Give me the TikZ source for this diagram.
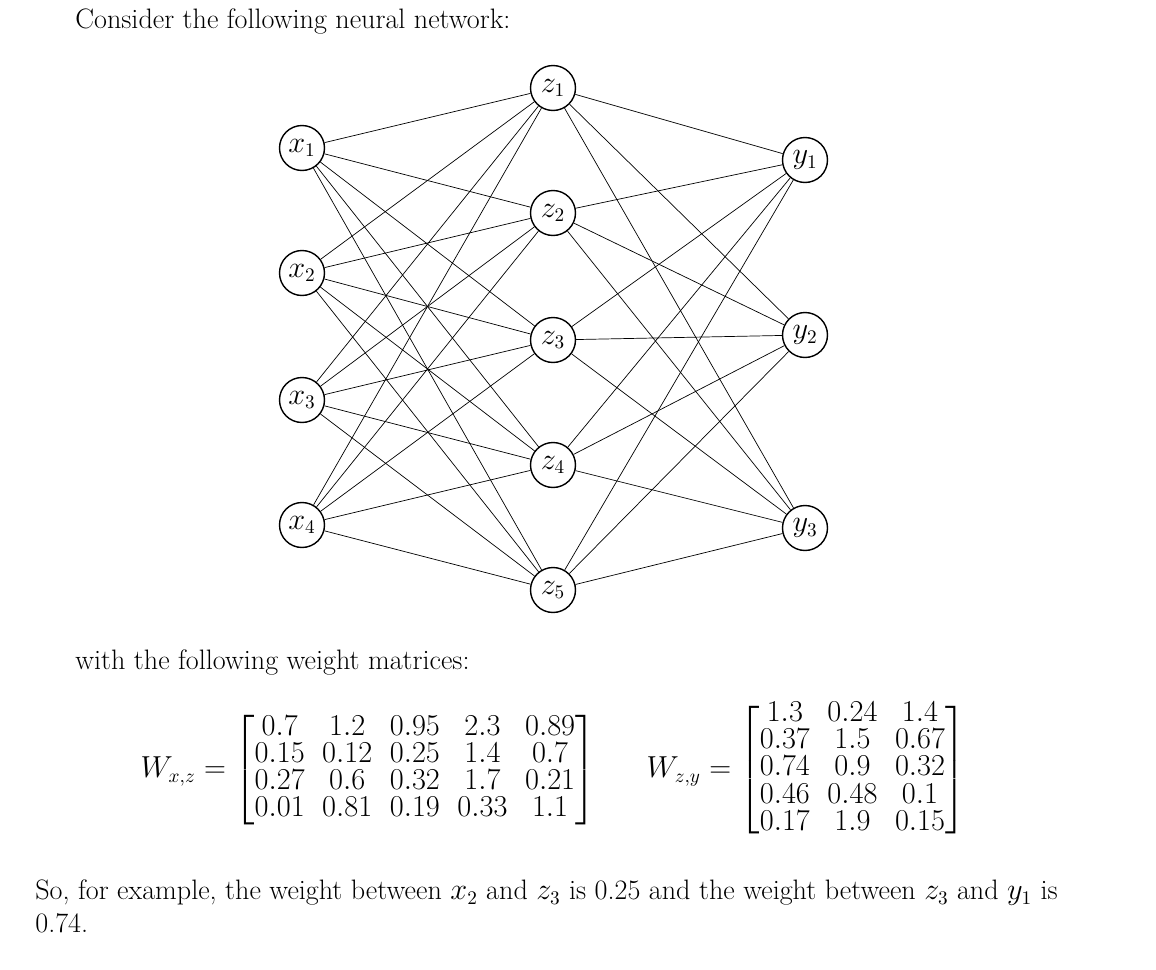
\documentclass[tikz,border=0pt]{standalone}
\usepackage{amsmath}
\begin{document}
\fontsize{16}{19}\selectfont
\renewcommand{\arraystretch}{0.76}
\begin{tikzpicture}[x=0.02cm,y=-0.02cm,
  neuron/.style={circle, draw, thick, minimum size=0.9cm, inner sep=0pt},
  txt/.style={anchor=west, inner sep=0pt}]
\useasboundingbox (0,0) rectangle (1156,970);
\node[txt] (intro) at (75,22) {Consider the following neural network:};
% input layer
\foreach \i/\yy in {1/148, 2/273, 3/400, 4/525}
  \node[neuron] (x\i) at (302,\yy) {$x_{\i}$};
% hidden layer
\foreach \i/\yy in {1/88, 2/213, 3/340, 4/465, 5/590}
  \node[neuron] (z\i) at (553,\yy) {$z_{\i}$};
% output layer
\foreach \i/\yy in {1/160, 2/335, 3/528}
  \node[neuron] (y\i) at (805,\yy) {$y_{\i}$};
\foreach \i in {1,...,4}
  \foreach \j in {1,...,5}
    \draw (x\i) -- (z\j);
\foreach \j in {1,...,5}
  \foreach \k in {1,...,3}
    \draw (z\j) -- (y\k);
\node[txt] (with) at (75,662) {with the following weight matrices:};
\node[anchor=center] (wxz) at (368,770) {$W_{x,z}=\begin{bmatrix}
0.7 & 1.2 & 0.95 & 2.3 & 0.89\\
0.15 & 0.12 & 0.25 & 1.4 & 0.7\\
0.27 & 0.6 & 0.32 & 1.7 & 0.21\\
0.01 & 0.81 & 0.19 & 0.33 & 1.1
\end{bmatrix}$};
\node[anchor=center] (wzy) at (806,770) {$W_{z,y}=\begin{bmatrix}
1.3 & 0.24 & 1.4\\
0.37 & 1.5 & 0.67\\
0.74 & 0.9 & 0.32\\
0.46 & 0.48 & 0.1\\
0.17 & 1.9 & 0.15
\end{bmatrix}$};
\node[txt] (so) at (35,893) {So, for example, the weight between $x_2$ and $z_3$ is 0.25 and the weight between $z_3$ and $y_1$ is};
\node[txt] (so2) at (35,923) {0.74.};
\end{tikzpicture}
\end{document}
